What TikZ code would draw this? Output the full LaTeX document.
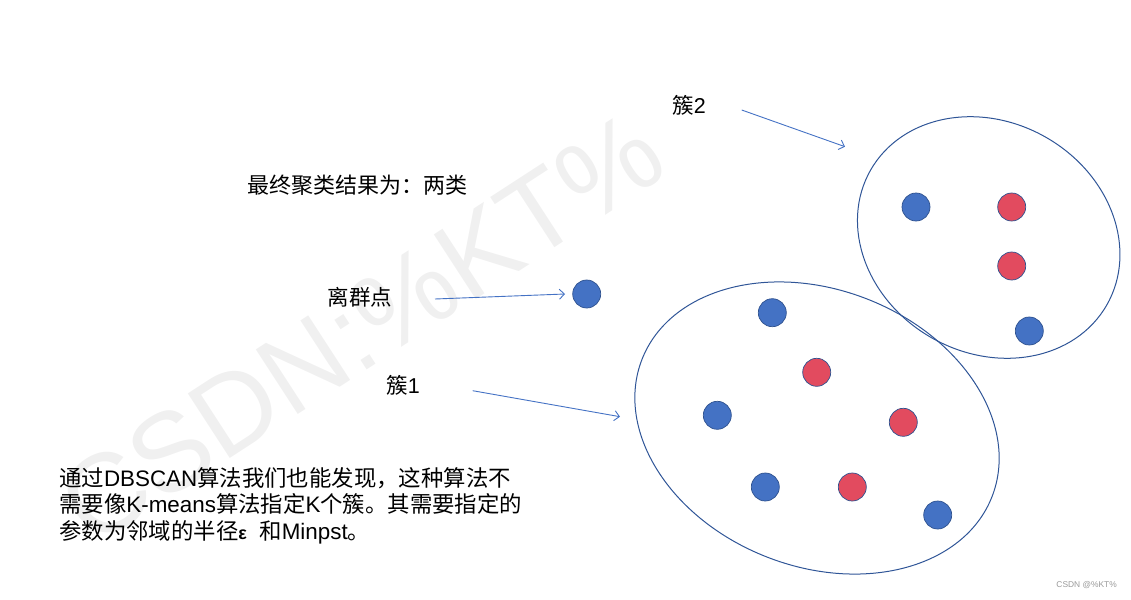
\documentclass[tikz,border=0pt]{standalone}
\usepackage{fontspec}
\setmainfont{Liberation Sans}
\newfontfamily\cjk{Noto Sans CJK SC}
\usetikzlibrary{arrows.meta}
\definecolor{dotblue}{HTML}{4472C4}
\definecolor{dotedge}{HTML}{2F528F}
\definecolor{dotred}{HTML}{E24B5F}
\definecolor{ringblue}{HTML}{2F5597}
\definecolor{arrowblue}{HTML}{4472C4}
\tikzset{
  bdot/.style={circle, minimum size=28pt, inner sep=0pt, fill=dotblue, draw=dotedge, line width=0.7pt},
  rdot/.style={circle, minimum size=28pt, inner sep=0pt, fill=dotred, draw=dotedge, line width=0.7pt},
  ring/.style={draw=ringblue, line width=1pt},
  pointer/.style={draw=arrowblue, line width=0.9pt, -{Straight Barb[length=5pt,width=10pt]}},
  lbl/.style={inner sep=0pt, font=\cjk\fontsize{21.5}{26}\selectfont}
}
\begin{document}
\begin{tikzpicture}[x=1pt,y=-1pt]
\useasboundingbox (0,0) rectangle (1131,599);
% watermark
\node[text=black!6, rotate=33, font=\fontsize{112}{118}\selectfont, inner sep=0pt] (wm) at (361,328) {CSDN:\%KT\%};
\node[text=black!40, font=\fontsize{8.4}{10}\selectfont, anchor=east, inner sep=0pt] (wm2) at (1117,585) {CSDN @\%KT\%};
% ellipses
\draw[ring, rotate around={-29.7:(988.7,237.5)}] (988.7,237.5) ellipse [x radius=136pt, y radius=115.4pt];
\draw[ring, rotate around={-21.5:(817,428)}] (817,428) ellipse [x radius=188pt, y radius=138.4pt];
% cluster 2 dots
\node[bdot] (c2a) at (916,207) {};
\node[rdot] (c2b) at (1011.7,207) {};
\node[rdot] (c2c) at (1011.7,266) {};
\node[bdot] (c2d) at (1029.3,331) {};
% cluster 1 dots
\node[bdot] (c1a) at (772.3,312.7) {};
\node[rdot] (c1b) at (816.7,372.3) {};
\node[bdot] (c1c) at (717.3,415.3) {};
\node[rdot] (c1d) at (903.3,422.3) {};
\node[bdot] (c1e) at (765.3,487) {};
\node[rdot] (c1f) at (852.3,487) {};
\node[bdot] (c1g) at (937.7,515) {};
% outlier
\node[bdot] (out) at (586.7,294) {};
% labels
\node[lbl] (l2) at (689,105) {簇\fontspec{Liberation Sans}2};
\node[lbl, font=\cjk\fontsize{22}{26}\selectfont] (title) at (357,185) {最终聚类结果为：两类};
\node[lbl] (lout) at (360,297) {离群点};
\node[lbl] (l1) at (403,385) {簇\fontspec{Liberation Sans}1};
\node[inner sep=0pt, anchor=north west, align=left, font=\fontsize{22.4}{26.8}\selectfont] (para) at (59,467)
{{\cjk 通过}DBSCAN{\cjk 算法我们也能发现，这种算法不}\\
{\cjk 需要像}K-means{\cjk 算法指定}K{\cjk 个簇。其需要指定的}\\
{\cjk 参数为邻域的半径}{\bfseries\fontsize{18}{20}\selectfont ε}\ \ {\cjk 和}Minpst{\cjk 。}};
% arrows
\coordinate (a2s) at (741.7,110);
\coordinate (a2e) at (845,146.7);
\coordinate (aos) at (435,299);
\coordinate (aoe) at (565,294);
\coordinate (a1s) at (472.7,390.7);
\coordinate (a1e) at (620,416.7);
\draw[pointer] (a2s) -- (a2e);
\draw[pointer] (aos) -- (aoe);
\draw[pointer] (a1s) -- (a1e);
\end{tikzpicture}
\end{document}
